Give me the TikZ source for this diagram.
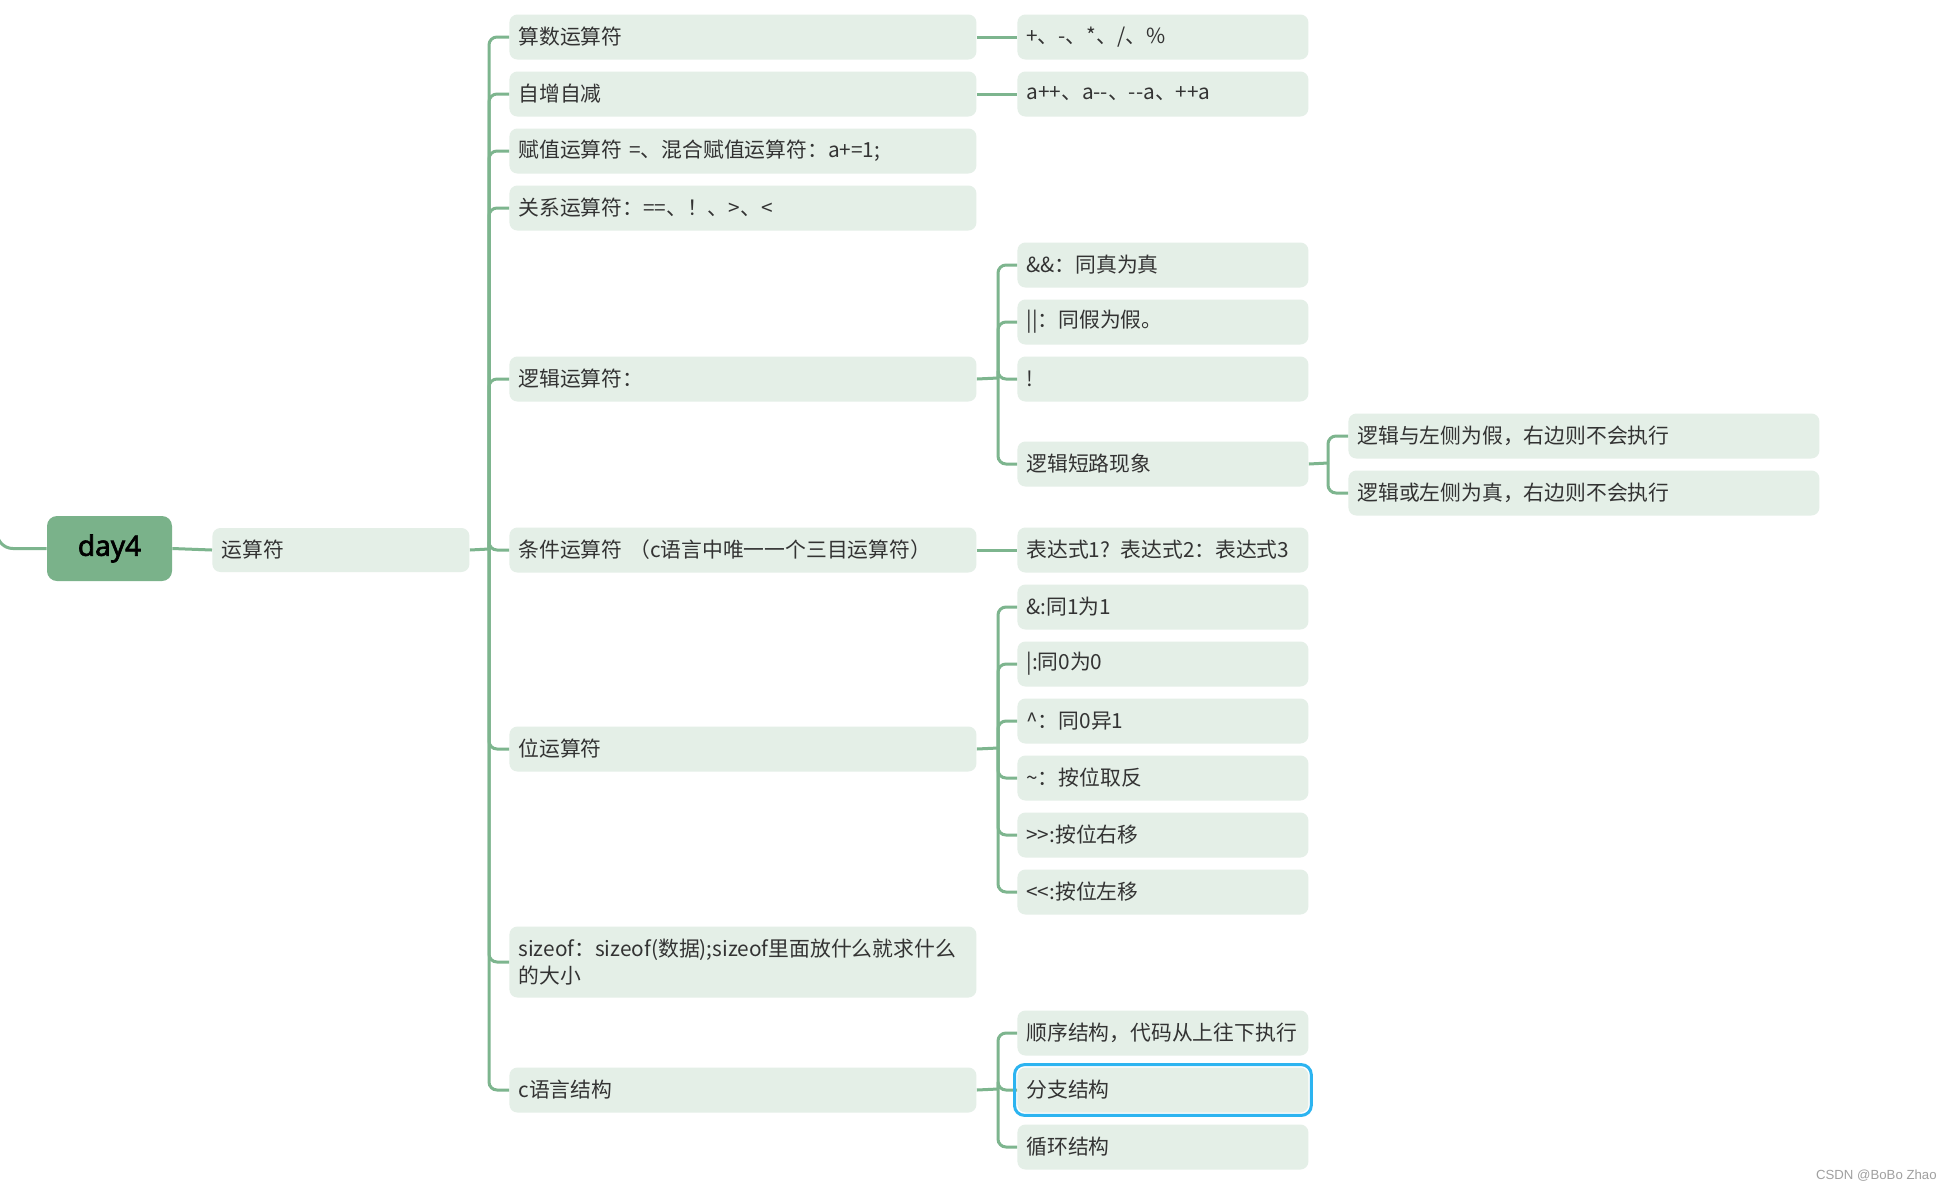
\documentclass[tikz,border=0pt]{standalone}
\usepackage{fontspec}
\setmainfont{Noto Sans CJK SC}
\newfontfamily\latinbold{Noto Sans}[FakeBold=2.2]
\newfontfamily\wmfont{Liberation Sans}
\definecolor{linec}{RGB}{125,181,142}
\definecolor{rootfill}{RGB}{122,178,138}
\definecolor{boxfill}{RGB}{228,239,231}
\definecolor{txt}{RGB}{51,51,51}
\definecolor{selcol}{RGB}{44,180,240}
\definecolor{wmcol}{RGB}{160,160,160}
\newcommand\ddash{-\kern0pt-}
\newcommand\lsh{<\kern0pt<}
\newcommand\rsh{>\kern0pt>}
\tikzset{
  conn/.style={draw=linec, line width=1.5pt, rounded corners=4pt},
  box/.style={fill=boxfill, rounded corners=4pt, inner xsep=4.5pt, inner ysep=0pt,
    minimum height=22.5pt, text=txt, font=\fontsize{10.4}{13.5}\selectfont,
    align=left, anchor=west, yshift=-0.5pt},
  lone/.style={box, text width=119.5pt, minimum height=22pt},
  ltwo/.style={box, text width=224.5pt},
  lthree/.style={box, text width=136.5pt},
  lfour/.style={box, text width=226.5pt},
  rootbox/.style={fill=rootfill, rounded corners=5pt, minimum width=62.5pt,
    minimum height=32.5pt, inner sep=0pt, text=black,
    font=\latinbold\fontsize{14}{16}\selectfont},
}
\begin{document}
\begin{tikzpicture}[x=0.5pt,y=-0.5pt]
\useasboundingbox (0,0) rectangle (1950,1191);
\clip (0,0) rectangle (1950,1191);
\fill[white] (0,0) rectangle (1950,1191);

% root and level 1
\node[rootbox] (day4) at (109.5,548.5) {day4};
\node[lone] (ys) at (212,549) {运算符};
\coordinate (edge) at (-3,420);
\draw[conn, rounded corners=8pt] (edge) |- (day4.west);
\draw[conn] (day4.east) -- (ys.west);

% level 2
\node[ltwo] (a1) at (509,36) {算数运算符};
\node[ltwo] (a2) at (509,93) {自增自减};
\node[ltwo] (a3) at (509,150) {赋值运算符 =、混合赋值运算符：a+=1;};
\node[ltwo] (a4) at (509,207) {关系运算符：==、！、>、<};
\node[ltwo] (a5) at (509,378) {逻辑运算符：};
\node[ltwo] (a6) at (509,549) {条件运算符 （c语言中唯一一个三目运算符）};
\node[ltwo] (a7) at (509,748) {位运算符};
\node[ltwo, minimum height=35.5pt] (a8) at (509,961) {sizeof：sizeof(数据);sizeof里面放什么就求什么\\的大小};
\node[ltwo] (a9) at (509,1089) {c语言结构};

\coordinate (t) at (489,549);
\draw[conn] (ys.east) -- (t);
\foreach \n in {a1,a2,a3,a4,a5,a6,a7,a8,a9}
  \draw[conn] (t) |- (\n.west);

% level 3
\node[lthree] (b1) at (1017,36) {+、-、*、/、\%};
\node[lthree] (b2) at (1017,93) {a++、a\ddash、\ddash a、++a};
\draw[conn] (a1.east) -- (b1.west);
\draw[conn] (a2.east) -- (b2.west);

\node[lthree] (l1) at (1017,264) {\&\&：同真为真};
\node[lthree] (l2) at (1017,321) {||：同假为假。};
\node[lthree] (l3) at (1017,378) {!};
\node[lthree] (l4) at (1017,463) {逻辑短路现象};
\coordinate (jl) at (998,378);
\draw[conn] (a5.east) -- (jl);
\foreach \n in {l1,l2,l3,l4}
  \draw[conn] (jl) |- (\n.west);

\node[lfour] (s1) at (1348,435) {逻辑与左侧为假，右边则不会执行};
\node[lfour] (s2) at (1348,492) {逻辑或左侧为真，右边则不会执行};
\coordinate (js) at (1328,463);
\draw[conn] (l4.east) -- (js);
\foreach \n in {s1,s2}
  \draw[conn] (js) |- (\n.west);

\node[lthree] (c1) at (1017,549) {表达式1? 表达式2：表达式3};
\draw[conn] (a6.east) -- (c1.west);

\node[lthree] (w1) at (1017,606) {\&:同1为1};
\node[lthree] (w2) at (1017,663) {|:同0为0};
\node[lthree] (w3) at (1017,720) {\textasciicircum：同0异1};
\node[lthree] (w4) at (1017,777) {\textasciitilde：按位取反};
\node[lthree] (w5) at (1017,834) {\rsh:按位右移};
\node[lthree] (w6) at (1017,891) {\lsh:按位左移};
\coordinate (jw) at (998,748);
\draw[conn] (a7.east) -- (jw);
\foreach \n in {w1,w2,w3,w4,w5,w6}
  \draw[conn] (jw) |- (\n.west);

\node[lthree] (k1) at (1017,1032) {顺序结构，代码从上往下执行};
\node[lthree] (k2) at (1017,1089) {分支结构};
\node[lthree] (k3) at (1017,1146) {循环结构};
\coordinate (jk) at (998,1089);
\draw[conn] (a9.east) -- (jk);
\foreach \n in {k1,k2,k3}
  \draw[conn] (jk) |- (\n.west);
\draw[selcol, line width=1.5pt, rounded corners=5pt]
  ([shift={(-2.5,2.5)}]k2.south west) rectangle ([shift={(2.5,-2.5)}]k2.north east);

% watermark
\node[anchor=east, text=wmcol, font=\wmfont\fontsize{6.6}{8}\selectfont, inner sep=0pt] (wm) at (1937,1176) {CSDN @BoBo Zhao};
\end{tikzpicture}
\end{document}
